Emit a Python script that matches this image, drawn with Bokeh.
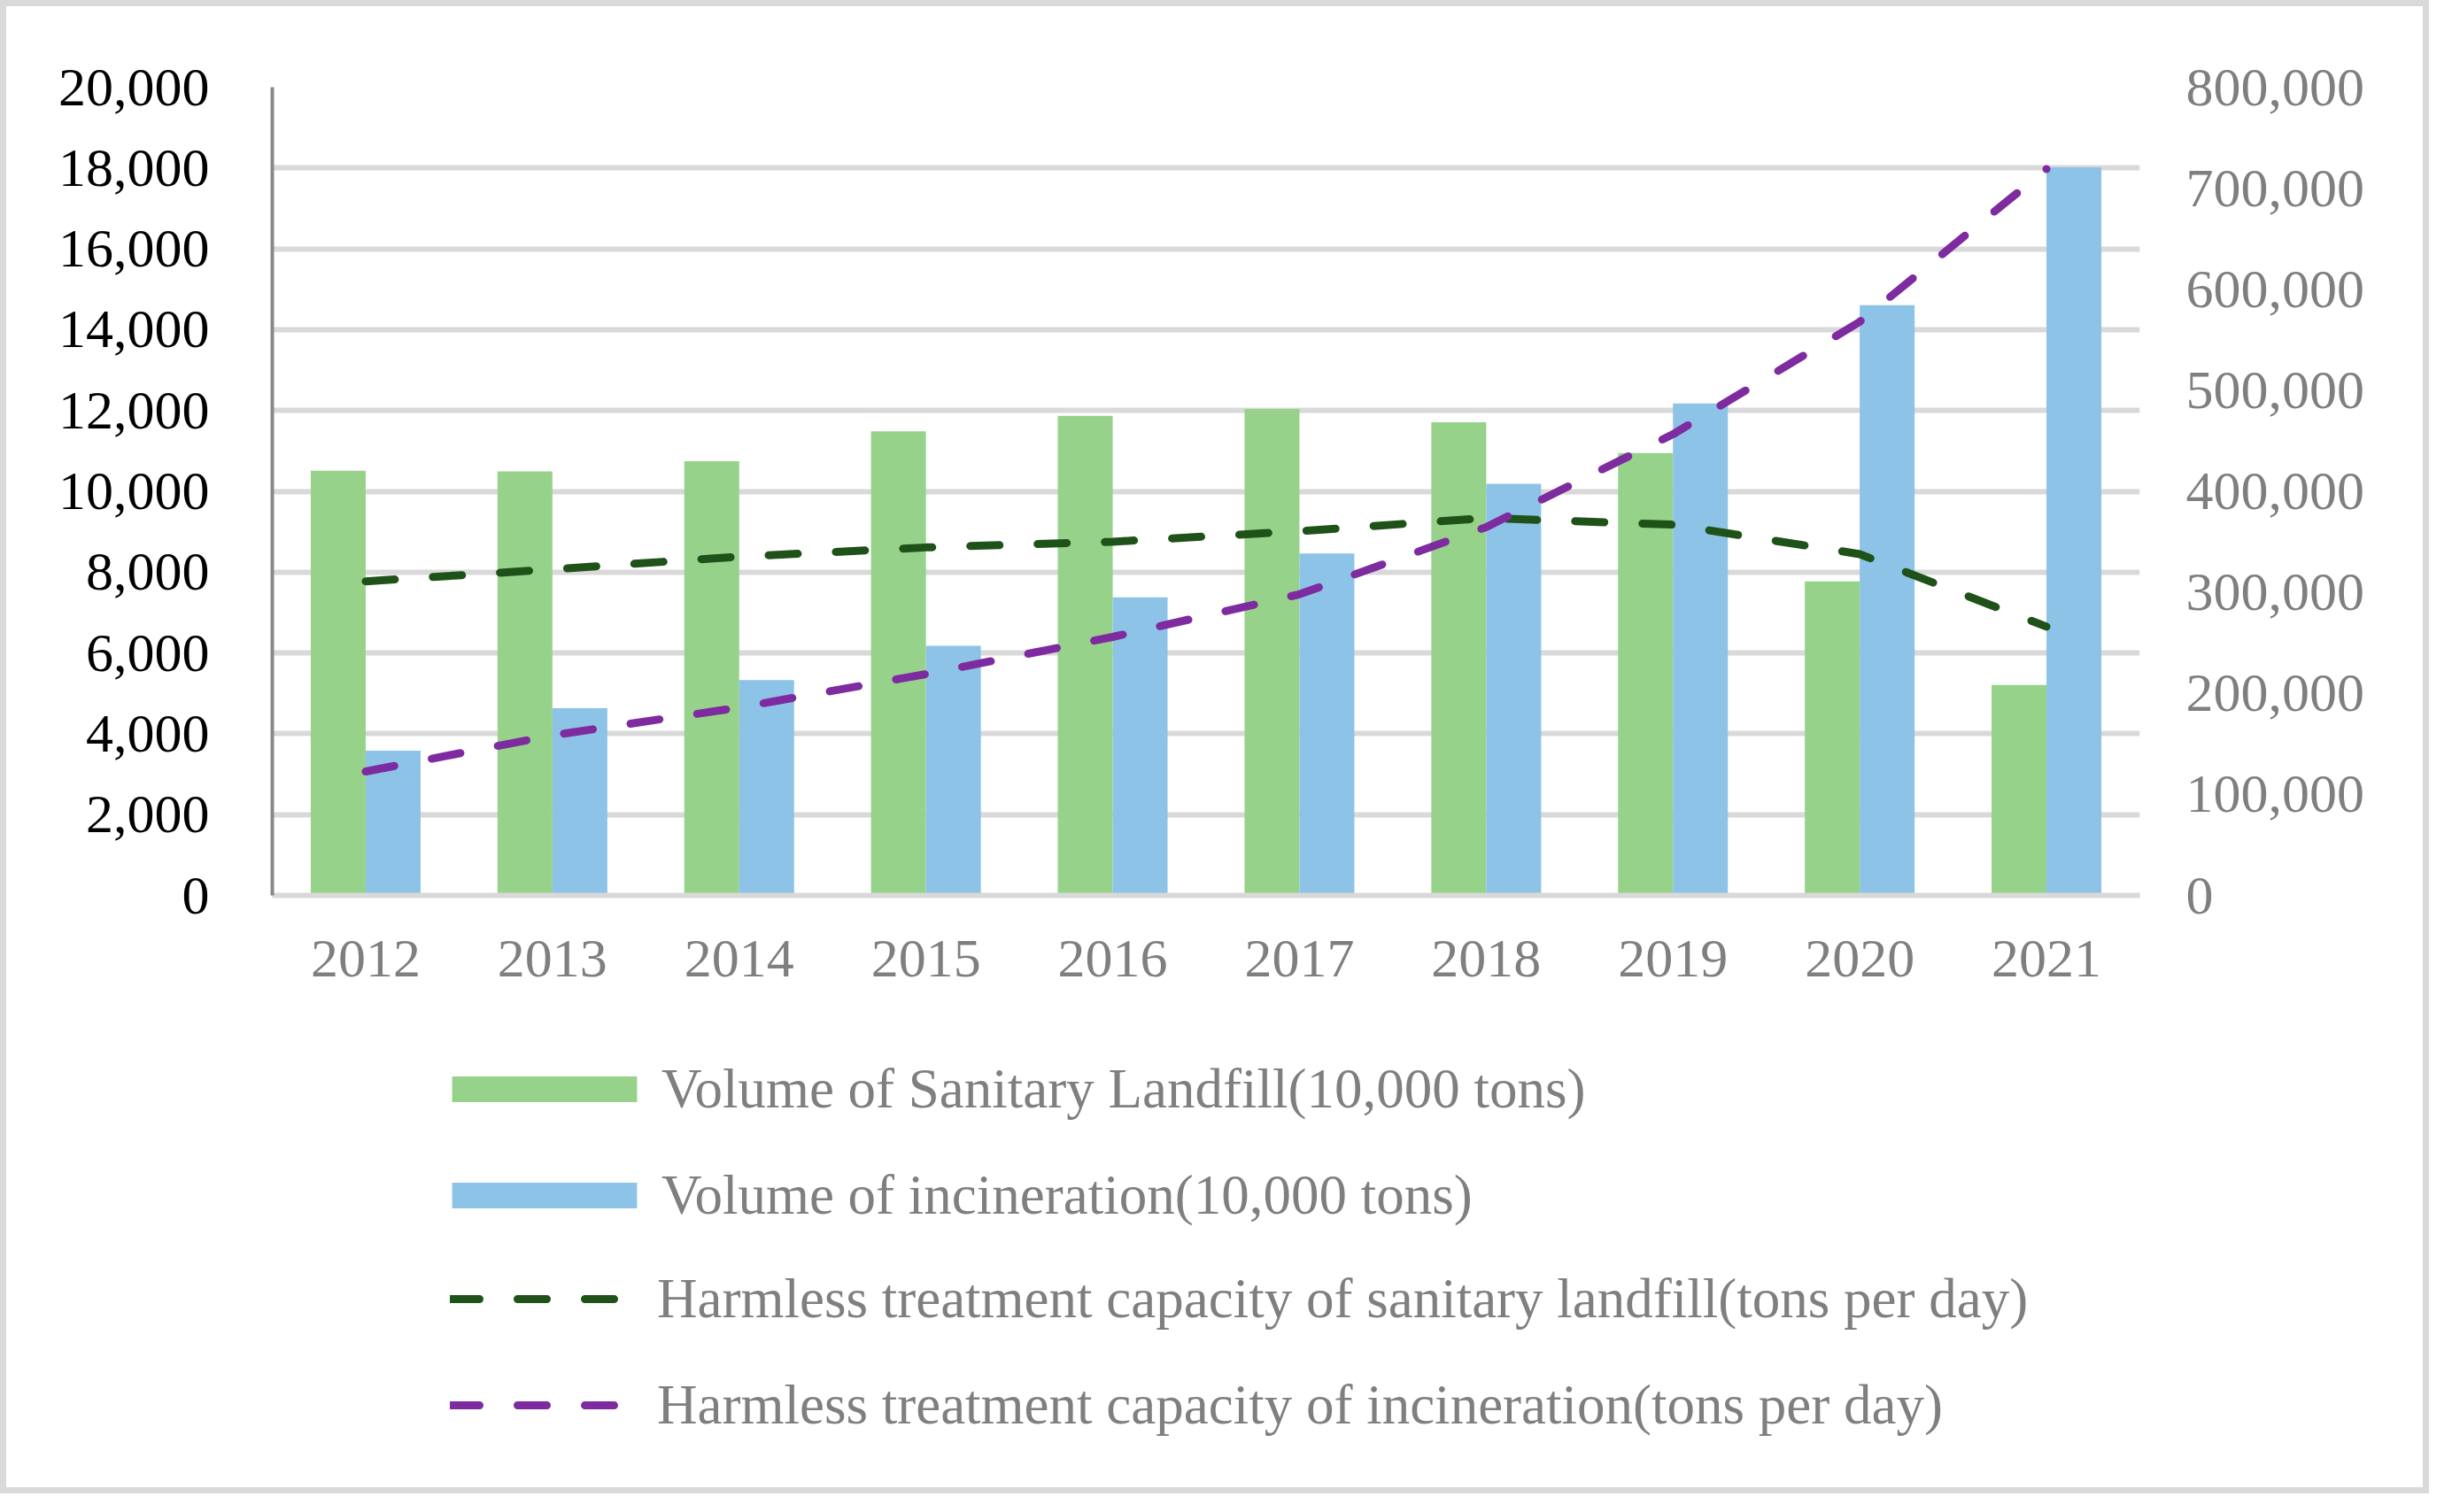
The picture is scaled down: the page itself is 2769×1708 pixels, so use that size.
from bokeh.plotting import figure, ColumnDataSource
from bokeh.models import (Range1d, FactorRange, LinearAxis, SingleIntervalTicker,
                          NumeralTickFormatter, Legend, LegendItem)
from bokeh.layouts import column
from bokeh.transform import dodge
from bokeh.embed import file_html
from bokeh.resources import INLINE

years = ["2012", "2013", "2014", "2015", "2016", "2017", "2018", "2019", "2020", "2021"]
landfill_volume = [10512, 10493, 10744, 11483, 11866, 12038, 11706, 10948, 7772, 5208]
incineration_volume = [3584, 4633, 5330, 6176, 7378, 8463, 10185, 12174, 14608, 18020]
landfill_capacity = [310927, 322782, 335316, 344472, 350103, 360524, 373498, 367013, 337848, 266000]
incineration_capacity = [122649, 158488, 185957, 219080, 255850, 298062, 364595, 456499, 567804, 719000]

FONT = "Liberation Serif"
GRAY = "#7f7f7f"
GREEN, BLUE, DKGREEN, PURPLE = "#97d28a", "#8cc3e6", "#1e5218", "#7e2ba0"
DASH = "33 43"

src = ColumnDataSource(data=dict(
    year=years,
    landfill_volume=landfill_volume,
    incineration_volume=incineration_volume,
    landfill_capacity=landfill_capacity,
    incineration_capacity=incineration_capacity,
))

p = figure(x_range=FactorRange(*years), y_range=Range1d(0, 20000),
           width=2729, height=1154, output_backend="svg", toolbar_location=None,
           min_border_left=300, min_border_right=320, min_border_top=91, min_border_bottom=150)
p.outline_line_color = None
p.extra_y_ranges = {"cap": Range1d(0, 800000)}

# grid
p.xgrid.grid_line_color = None
p.ygrid.grid_line_color = "#d9d9d9"
p.ygrid.grid_line_width = 6
p.yaxis.ticker = SingleIntervalTicker(interval=2000)

# left axis
p.yaxis.formatter = NumeralTickFormatter(format="0,0")
p.yaxis.axis_line_color = "#898989"
p.yaxis.axis_line_width = 4
p.yaxis.major_tick_line_color = None
p.yaxis.minor_tick_line_color = None
p.yaxis.major_label_text_font = FONT
p.yaxis.major_label_text_font_size = "62px"
p.yaxis.major_label_text_color = "black"
p.yaxis.major_label_standoff = 65

# bottom axis
p.xaxis.axis_line_color = "#d9d9d9"
p.xaxis.axis_line_width = 6
p.xaxis.major_tick_line_color = None
p.xaxis.minor_tick_line_color = None
p.xaxis.major_label_text_font = FONT
p.xaxis.major_label_text_font_size = "62px"
p.xaxis.major_label_text_color = GRAY
p.xaxis.major_label_standoff = 45

# right axis
ax2 = LinearAxis(y_range_name="cap", ticker=SingleIntervalTicker(interval=100000),
                 formatter=NumeralTickFormatter(format="0,0"))
ax2.axis_line_color = None
ax2.major_tick_line_color = None
ax2.minor_tick_line_color = None
ax2.major_label_text_font = FONT
ax2.major_label_text_font_size = "62px"
ax2.major_label_text_color = GRAY
ax2.major_label_standoff = 46
p.add_layout(ax2, "right")

p.vbar(x=dodge("year", -0.147, range=p.x_range), top="landfill_volume", width=0.294,
       source=src, fill_color=GREEN, line_color=None)
p.vbar(x=dodge("year", 0.147, range=p.x_range), top="incineration_volume", width=0.294,
       source=src, fill_color=BLUE, line_color=None)
p.line(x="year", y="landfill_capacity", source=src, y_range_name="cap",
       line_color=DKGREEN, line_width=9, line_dash=DASH, line_cap="round")
p.line(x="year", y="incineration_capacity", source=src, y_range_name="cap",
       line_color=PURPLE, line_width=9, line_dash=DASH, line_cap="round")

# legend strip under the chart; its renderers are hidden, only the legend shows
lg = figure(x_range=FactorRange(*years), y_range=Range1d(-2, -1),
            width=2729, height=519, output_backend="svg", toolbar_location=None,
            x_axis_location=None, y_axis_location=None,
            min_border_left=300, min_border_right=320, min_border_top=0, min_border_bottom=0)
lg.outline_line_color = None
lg.grid.grid_line_color = None
r1 = lg.vbar(x="year", top="landfill_volume", width=0.294, source=src,
             fill_color=GREEN, line_color=None, visible=False)
r2 = lg.vbar(x="year", top="incineration_volume", width=0.294, source=src,
             fill_color=BLUE, line_color=None, visible=False)
r3 = lg.line(x="year", y="landfill_capacity", source=src, visible=False,
             line_color=DKGREEN, line_width=9, line_dash=DASH, line_cap="round")
r4 = lg.line(x="year", y="incineration_capacity", source=src, visible=False,
             line_color=PURPLE, line_width=9, line_dash=DASH, line_cap="round")

def make_legend(items, loc, gw, gh, standoff):
    leg = Legend(items=items, location=loc, orientation="vertical",
                 glyph_width=gw, glyph_height=gh, label_height=80, spacing=40,
                 label_standoff=standoff, padding=0, margin=0,
                 border_line_color=None, background_fill_alpha=0,
                 inactive_fill_alpha=0)
    leg.label_text_font = FONT
    leg.label_text_font_size = "63px"
    leg.label_text_color = GRAY
    return leg

lg.add_layout(make_legend([
    LegendItem(label="Volume of Sanitary Landfill(10,000 tons)", renderers=[r1]),
    LegendItem(label="Volume of incineration(10,000 tons)", renderers=[r2]),
], (177, 290), 261, 36, 2), "center")
lg.add_layout(make_legend([
    LegendItem(label="Harmless treatment capacity of sanitary landfill(tons per day)", renderers=[r3]),
    LegendItem(label="Harmless treatment capacity of incineration(tons per day)", renderers=[r4]),
], (201, 53), 210, 36, 24), "center")

chart = column(p, lg)
chart.styles = {"border": "7px solid #d9d9d9"}

open("out.html", "w").write(file_html(chart, INLINE))
